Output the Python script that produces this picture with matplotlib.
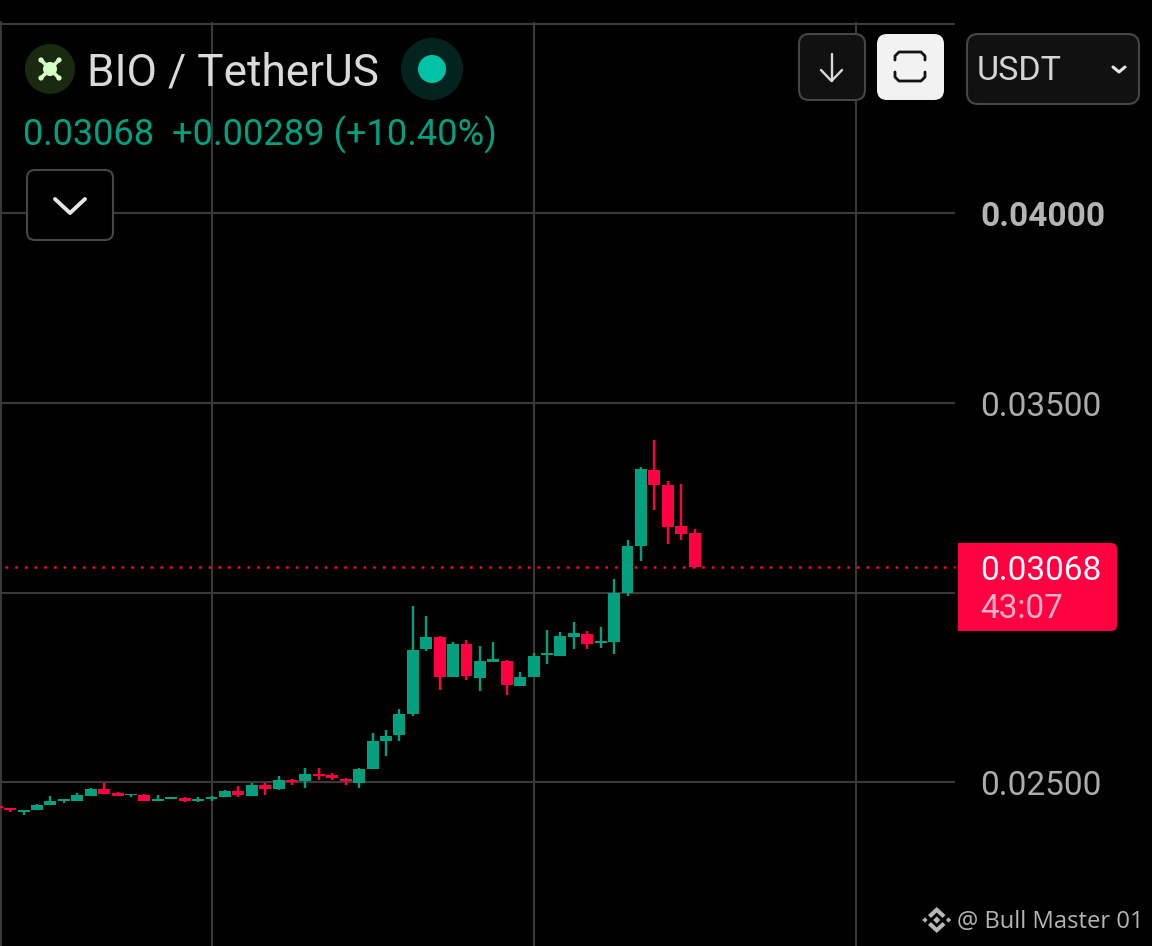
import matplotlib
matplotlib.use("Agg")
import matplotlib.pyplot as plt
from matplotlib.patches import FancyBboxPatch, Circle, Rectangle, Polygon

# ---- data (price values) ----
opens = [0.02437, 0.02433, 0.02421, 0.02427, 0.02440, 0.02452, 0.02450, 0.02465, 0.02483, 0.02471,
         0.02466, 0.02466, 0.02451, 0.02455, 0.02458, 0.02452, 0.02457, 0.02461, 0.02476, 0.02465,
         0.02492, 0.02482, 0.02506, 0.02503, 0.02521, 0.02518, 0.02509, 0.02499, 0.02534, 0.02609,
         0.02625, 0.02680, 0.02851, 0.02883, 0.02777, 0.02864, 0.02775, 0.02817, 0.02821, 0.02754,
         0.02777, 0.02835, 0.02834, 0.02884, 0.02891, 0.02866, 0.02871, 0.02999, 0.03122, 0.03324,
         0.03284, 0.03176, 0.03158]
closes = [0.02431, 0.02428, 0.02428, 0.02439, 0.02452, 0.02455, 0.02466, 0.02483, 0.02469, 0.02465,
          0.02470, 0.02452, 0.02455, 0.02460, 0.02452, 0.02457, 0.02462, 0.02476, 0.02466, 0.02492,
          0.02482, 0.02506, 0.02501, 0.02521, 0.02516, 0.02511, 0.02504, 0.02536, 0.02608, 0.02622,
          0.02681, 0.02850, 0.02883, 0.02777, 0.02865, 0.02780, 0.02821, 0.02824, 0.02756, 0.02778,
          0.02832, 0.02841, 0.02885, 0.02894, 0.02865, 0.02872, 0.02999, 0.03123, 0.03326, 0.03283,
          0.03173, 0.03156, 0.03068]
highs = [0.02437, 0.02433, 0.02428, 0.02444, 0.02463, 0.02455, 0.02471, 0.02484, 0.02498, 0.02475,
         0.02470, 0.02468, 0.02466, 0.02460, 0.02460, 0.02461, 0.02465, 0.02479, 0.02489, 0.02497,
         0.02499, 0.02516, 0.02510, 0.02537, 0.02539, 0.02525, 0.02512, 0.02539, 0.02631, 0.02639,
         0.02692, 0.02965, 0.02938, 0.02885, 0.02870, 0.02874, 0.02859, 0.02870, 0.02823, 0.02790,
         0.02840, 0.02902, 0.02895, 0.02923, 0.02899, 0.02910, 0.03036, 0.03138, 0.03331, 0.03403,
         0.03295, 0.03286, 0.03168]
lows = [0.02431, 0.02422, 0.02414, 0.02427, 0.02440, 0.02445, 0.02450, 0.02465, 0.02469, 0.02465,
        0.02460, 0.02452, 0.02451, 0.02455, 0.02447, 0.02447, 0.02451, 0.02461, 0.02462, 0.02465,
        0.02466, 0.02479, 0.02494, 0.02485, 0.02505, 0.02505, 0.02493, 0.02486, 0.02534, 0.02569,
        0.02609, 0.02675, 0.02846, 0.02743, 0.02777, 0.02769, 0.02740, 0.02817, 0.02730, 0.02754,
        0.02777, 0.02813, 0.02832, 0.02851, 0.02852, 0.02855, 0.02839, 0.02992, 0.03084, 0.03218,
        0.03129, 0.03138, 0.03066]
first_index = -1
price_ticks = [0.045, 0.040, 0.035, 0.030, 0.025]
price_labels = ["", "0.04000", "0.03500", "", "0.02500"]
time_ticks = [15, 39, 63]
last_price = 0.03068

# ---- style ----
W, H = 1152, 946
BG = "#000000"
UP = "#02A07F"
DOWN = "#FF0040"
GRID = "#3A3A3A"
FONT = "Roboto"
plt.rcParams["font.family"] = [FONT, "DejaVu Sans"]

fig = plt.figure(figsize=(W / 100, H / 100), dpi=100, facecolor=BG)

# Main price axes: pixels 0..955 wide, 22..946 tall
plot_right, plot_top = 955, 22
ax = fig.add_axes([0, 0, plot_right / W, (H - plot_top) / H], facecolor=BG)
x0, step = 10.2, 13.42
y025, per_px = 782.3, 0.005 / 189.63
ax.set_xlim(-x0 / step, (plot_right - x0) / step)
ax.set_ylim(0.025 - (H - y025) * per_px, 0.025 + (y025 - plot_top) * per_px)

ax.set_yticks(price_ticks)
ax.set_yticklabels(price_labels, fontsize=24, color="#ACACAC", family=FONT)
ax.yaxis.tick_right()
ax.tick_params(axis="y", length=0, pad=18.0)
for lab in ax.get_yticklabels():
    if lab.get_text() == "0.04000":
        lab.set_fontweight("bold")
        lab.set_color("#B4B4B4")
ax.set_xticks(time_ticks)
ax.set_xticklabels([])
ax.tick_params(axis="x", length=0)
ax.grid(True, color=GRID, lw=1.5, zorder=0)
ax.set_axisbelow(True)
for name in ("top", "right", "bottom"):
    ax.spines[name].set_visible(False)
ax.spines["left"].set_color(GRID)
ax.spines["left"].set_linewidth(2.0)

xs = list(range(first_index, first_index + len(opens)))
colors = [UP if c >= o else DOWN for o, c in zip(opens, closes)]
ax.vlines(xs, lows, highs, colors=colors, lw=1.7, zorder=3)
ax.bar(xs, [c - o for o, c in zip(opens, closes)], bottom=opens, width=0.89,
       color=colors, edgecolor="none", zorder=4)
ax.axhline(last_price, color=DOWN, lw=1.8, linestyle=(1.83, (1.0, 2.87)), zorder=2)

# Overlay in pixel coordinates for the app furniture
ui = fig.add_axes([0, 0, 1, 1], facecolor="none")
ui.set_xlim(0, W)
ui.set_ylim(H, 0)
ui.axis("off")


def box(x1, y1, x2, y2, fc, ec="none", r=8, lw=1.5):
    ui.add_patch(FancyBboxPatch((x1 + r, y1 + r), x2 - x1 - 2 * r, y2 - y1 - 2 * r,
                                boxstyle=f"round,pad={r},rounding_size={r}",
                                fc=fc, ec=ec, lw=lw, mutation_aspect=1))


def stroke(px, py, color, lw):
    ui.plot(px, py, color=color, lw=lw, solid_capstyle="round", solid_joinstyle="round")


# Header
ui.add_patch(Circle((50, 69), 25, fc="#1A2A10", ec="none"))
stroke([41, 59], [60, 78], "#D6FFC6", 2.6)
stroke([41, 59], [78, 60], "#D6FFC6", 2.6)
ui.add_patch(Circle((50, 69), 7, fc="#D6FFC6", ec="none"))
for ex, ey in [(41, 60), (59, 60), (41, 78), (59, 78)]:
    ui.add_patch(Circle((ex, ey), 2.6, fc="#D6FFC6", ec="none"))
ui.text(87, 85, "BIO / TetherUS", fontsize=31.8, color="#DADADA", va="baseline")
ui.add_patch(Circle((432, 69), 31, fc="#03231F", ec="none"))
ui.add_patch(Circle((432, 69), 14, fc="#00C2A6", ec="none"))
ui.text(23, 145, "0.03068", fontsize=26.0, color=UP, va="baseline")
ui.text(172, 145, "+0.00289 (+10.40%)", fontsize=26.1, color=UP, va="baseline")

# Collapse button
box(27, 170, 113, 240, "#000000", "#464646", r=8, lw=1.5)
stroke([55, 70, 85], [199, 213, 199], "#E6E6E6", 2.8)

# Down arrow button
box(799, 34, 865, 100, "#111111", "#464646", r=10, lw=1.5)
stroke([831.5, 831.5], [54, 81], "#DADADA", 1.7)
stroke([821, 831.5, 842], [70, 81, 70], "#DADADA", 1.7)

# White button
box(877, 34, 944, 100, "#F2F2F2", r=10)
stroke([895, 895, 899, 921, 925, 925], [60, 56, 52, 52, 56, 60], "#111111", 2.0)
stroke([895, 895, 899, 921, 925, 925], [72, 77, 81, 81, 77, 72], "#111111", 2.0)

# Currency selector
box(967, 34, 1139, 104, "#111111", "#464646", r=11, lw=1.5)
ui.text(977, 79.5, "USDT", fontsize=24.5, color="#D4D4D4", va="baseline")
stroke([1113, 1119, 1125], [67, 72, 67], "#E6E6E6", 2.2)

# Last price tag
box(958, 543, 1117, 631, DOWN, r=6)
ui.add_patch(Rectangle((958, 543), 20, 88, fc=DOWN, ec="none"))
ui.text(980, 579.5, "0.03068", fontsize=24, color="#FFFFFF", va="baseline")
ui.text(980, 618, "43:07", fontsize=24, color="#FFB3C6", va="baseline")

# Watermark
mark = "#B8B8B8"
ui.add_patch(Polygon([(936.7, 907), (945.5, 915), (942.5, 918), (936.7, 912.5), (931, 918), (928, 915)],
                     fc=mark, ec="none"))
ui.add_patch(Polygon([(936.7, 933), (945.5, 925), (942.5, 922), (936.7, 927.5), (931, 922), (928, 925)],
                     fc=mark, ec="none"))
for cx, cy, s in [(925, 920, 2.6), (948.5, 920, 2.6), (936.7, 920, 3.6)]:
    ui.add_patch(Polygon([(cx - s, cy), (cx, cy - s), (cx + s, cy), (cx, cy + s)],
                         fc=mark, ec="none"))
ui.text(957, 928, "@ Bull Master 01", fontsize=17.1, color="#B4B4B4", va="baseline",
        family="Open Sans")

fig.savefig("out.png", dpi=100, facecolor=BG)
